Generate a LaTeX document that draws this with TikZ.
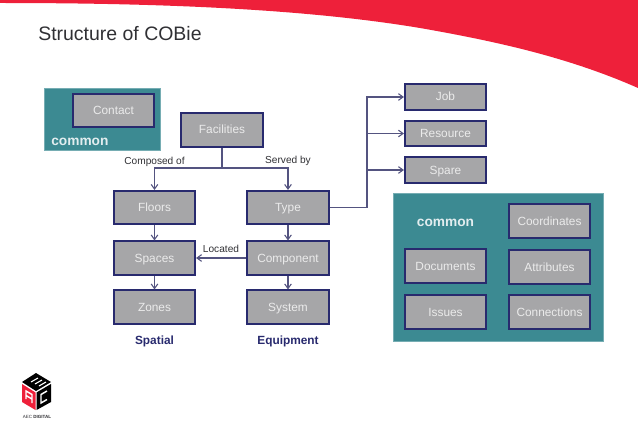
\documentclass[tikz,border=0pt]{standalone}
\usepackage{fontspec}
\setmainfont{Liberation Sans}
\usetikzlibrary{arrows.meta}
\definecolor{cobieblue}{RGB}{40,42,110}
\definecolor{cobieline}{RGB}{84,84,128}
\definecolor{cobieteal}{RGB}{60,138,146}
\definecolor{cobiegrey}{RGB}{166,166,168}
\definecolor{cobiered}{RGB}{238,32,58}
\definecolor{cobietext}{RGB}{48,48,52}
\tikzset{
  boxnode/.style = {draw=cobieblue, fill=cobiegrey, line width=1.3pt, text=white!92!black,
    font=\fontsize{8.9}{10}\selectfont, inner sep=0pt, text height=7.6pt, text depth=1.6pt,
    minimum width=61pt, minimum height=25pt},
  boxthin/.style = {boxnode, minimum height=19pt},
  commonbox/.style = {draw=cobieteal!70!white, fill=cobieteal, line width=.6pt, inner sep=0pt},
  commonlabel/.style = {text=white!85!cobieteal, font=\fontsize{10.3}{12}\selectfont\bfseries, inner sep=0pt},
  linklabel/.style = {text=cobietext, font=\fontsize{7.6}{9}\selectfont, inner sep=0pt},
  grouplabel/.style = {text=cobieblue, font=\fontsize{8.9}{10}\selectfont\bfseries, inner sep=0pt},
  link/.style = {draw=cobieline, line width=.8pt, -{Straight Barb[length=3.5pt,width=5pt]}},
  linkplain/.style = {draw=cobieline, line width=.8pt}
}

\begin{document}
\begin{tikzpicture}[x=.75pt,y=-.75pt]
\useasboundingbox (0,0) rectangle (638,442);
% banner
\fill[cobiered] (0,0) -- (0,3) .. controls (150,3) and (300,8) .. (420,28)
  .. controls (500,42) and (570,58) .. (638,88) -- (638,0) -- cycle;
\node [anchor=base west, inner sep=0pt, text=cobietext, font=\fontsize{14.6}{18}\selectfont]
  (title) at (38,41) {Structure of COBie};
% teal panels
\node [commonbox, minimum width=87pt, minimum height=47pt] (panelleft) at (102,119.5) {};
\node [commonbox, minimum width=157pt, minimum height=111pt] (panelright) at (498.5,267) {};
\node [commonlabel, anchor=west] (commonleft) at (51,141.5) {common};
\node [commonlabel] (commonright) at (445.5,222.5) {common};
% boxes
\node [boxnode] (contact) at (113.5,110.5) {Contact};
\node [boxnode] (facilities) at (222,130) {Facilities};
\node [boxnode] (floors) at (154.5,207.5) {Floors};
\node [boxnode] (type) at (288,207.5) {Type};
\node [boxnode] (spaces) at (154.5,258) {Spaces};
\node [boxnode] (component) at (288,258) {Component};
\node [boxnode] (zones) at (154.5,307) {Zones};
\node [boxnode] (system) at (288,307) {System};
\node [boxthin] (job) at (445.5,97) {Job};
\node [boxthin] (resource) at (445.5,133.5) {Resource};
\node [boxthin] (spare) at (445.5,170) {Spare};
\node [boxnode] (coordinates) at (549.5,221) {Coordinates};
\node [boxnode] (documents) at (445.5,266) {Documents};
\node [boxnode] (attributes) at (549.5,267) {Attributes};
\node [boxnode] (issues) at (445.5,312) {Issues};
\node [boxnode] (connections) at (549.5,312) {Connections};
% connectors
\coordinate (split) at (222,168);
\coordinate (trunk) at (367,207.5);
\draw [linkplain] (facilities) -- (split);
\draw [link] (split) -| (floors);
\draw [link] (split) -| (type);
\draw [link] (floors) -- (spaces);
\draw [link] (spaces) -- (zones);
\draw [link] (type) -- (component);
\draw [link] (component) -- (system);
\draw [link] (component) -- (spaces);
\draw [linkplain] (type) -- (trunk);
\draw [link] (trunk) |- (job);
\draw [link] (trunk) |- (resource);
\draw [link] (trunk) |- (spare);
% labels
\node [linklabel] (composed) at (154.5,162) {Composed of};
\node [linklabel] (served) at (288,160.5) {Served by};
\node [linklabel] (located) at (221,249) {Located};
\node [grouplabel] (spatial) at (154.5,341) {Spatial};
\node [grouplabel] (equipment) at (288,341) {Equipment};
% logo
\fill [black] (36,373) -- (51,382) -- (36,391) -- (22,382) -- cycle;
\fill [cobiered] (22,384) -- (35.5,392.5) -- (35.5,410) -- (22,402) -- cycle;
\fill [black] (36.5,392.5) -- (51,384) -- (51,402) -- (36.5,410) -- cycle;
\draw [white, line width=.8pt] (31,382) -- (38,378) (35,384) -- (42,380) (39,386) -- (46,382);
\draw [white, line width=1.1pt] (26,399) -- (26,391) -- (32,394.5) -- (32,403) (26,395.5) -- (32,399);
\draw [white, line width=1.1pt] (47,391) -- (41,394.5) -- (41,403) -- (47,399.5);
\node [inner sep=0pt, text=cobietext, font=\fontsize{3.4}{4}\selectfont] (logotext) at (37,417) {AEC \textbf{DIGITAL}};
\end{tikzpicture}
\end{document}
